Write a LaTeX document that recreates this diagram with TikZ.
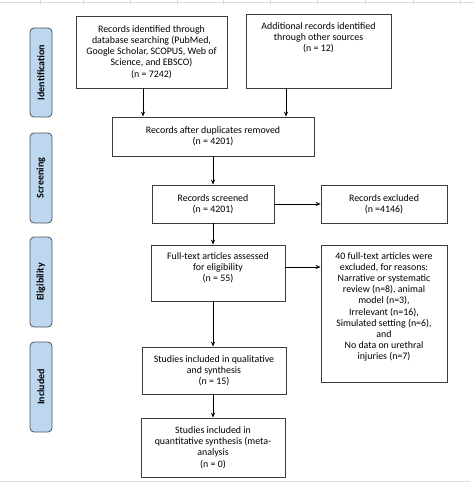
\documentclass[tikz,border=0pt]{standalone}
\usepackage{fontspec}
\setmainfont{Carlito}
\usetikzlibrary{arrows.meta}
\definecolor{boxline}{HTML}{3C3C3C}
\definecolor{phasefill}{HTML}{BDD7EE}
\definecolor{phaseline}{HTML}{4A5560}
\definecolor{faint}{HTML}{DDDDDD}
\tikzset{
  box/.style={draw=boxline, line width=0.8pt, fill=white, inner sep=0pt, align=center,
    font=\fontsize{9.9}{11.2}\selectfont},
  txt/.style={inner sep=0pt, align=center, font=\fontsize{9.9}{11.2}\selectfont},
  phase/.style={draw=phaseline, line width=0.8pt, fill=phasefill, rounded corners=4pt,
    minimum width=22pt, minimum height=90pt, inner sep=0pt},
  phasetxt/.style={rotate=90, font=\fontsize{10}{11}\selectfont\bfseries, inner sep=0pt},
  arr/.style={draw=black, line width=0.8pt, -{Stealth[length=5pt,width=4pt]}},
  faintline/.style={draw=faint, line width=0.7pt}
}
\begin{document}
\begin{tikzpicture}[x=1pt,y=-1pt]
\useasboundingbox (0,0) rectangle (474,484);
% faint frame artefacts
\coordinate (tl) at (0,2);
\coordinate (tr) at (474,2);
\draw[faintline] (tl) -- (tr);
\foreach \tx in {40,83,130,177,223,270,317,365,413,460}
  \draw[faintline] (\tx,0) -- (\tx,5);
\coordinate (bl) at (0,481);
\coordinate (br) at (470,481);
\draw[faintline] (bl) -- (br);

% phase labels
\node[phase, minimum height=89pt] (P1) at (41,72.5) {};
\node[phasetxt] (P1t) at (P1) {Identification};
\node[phase] (P2) at (41,178) {};
\node[phasetxt] (P2t) at (P2) {Screening};
\node[phase] (P3) at (41,282) {};
\node[phasetxt] (P3t) at (P3) {Eligibility};
\node[phase] (P4) at (41,387) {};
\node[phasetxt] (P4t) at (P4) {Included};

% boxes
\node[box, minimum width=151pt, minimum height=72pt] (A) at (151.5,52)
  {Records identified through\\database searching (PubMed,\\Google Scholar, SCOPUS, Web of\\Science, and EBSCO)\\(n = 7242)};
\node[box, minimum width=145pt, minimum height=74pt] (B) at (318.5,51) {};
\node[txt, anchor=north] (Bt) at ([yshift=-8.5pt]B.north)
  {Additional records identified\\through other sources\\(n = 12)};
\node[box, minimum width=202pt, minimum height=39pt] (C) at (213,136.5)
  {Records after duplicates removed\\(n = 4201)};
\node[box, minimum width=122pt, minimum height=38pt] (D) at (213,204)
  {Records screened\\(n = 4201)};
\node[box, minimum width=126pt, minimum height=38pt] (E) at (384,204)
  {Records excluded\\(n =4146)};
\node[box, minimum width=134pt, minimum height=56pt] (F) at (218,273) {};
\node[txt, anchor=north] (Ft) at ([yshift=-7.5pt]F.north)
  {Full-text articles assessed\\for eligibility\\(n = 55)};
\node[box, minimum width=126pt, minimum height=137pt] (G) at (384,313.5) {};
\node[txt, anchor=north] (Gt) at ([yshift=-7.5pt]G.north)
  {40 full-text articles were\\excluded, for reasons:\\Narrative or systematic\\review (n=8), animal\\model (n=3),\\Irrelevant (n=16),\\Simulated setting (n=6),\\and\\No data on urethral\\injuries (n=7)};
\node[box, minimum width=144pt, minimum height=47pt] (H) at (214,370.5)
  {Studies included in qualitative\\and synthesis\\(n = 15)};
\node[box, minimum width=144pt, minimum height=59pt] (I) at (213,447.5)
  {Studies included in\\quantitative synthesis (meta-\\analysis\\(n = 0)};

% connectors
\draw[arr] ([xshift=-8.5pt]A.south) -- ([xshift=-8.5pt]A.south |- C.north);
\draw[arr] ([xshift=-32.5pt]B.south) -- ([xshift=-32.5pt]B.south |- C.north);
\draw[arr] (C.south) -- (C.south |- D.north);
\draw[arr] (D.east) -- (E.west);
\draw[arr] (D.south) -- (D.south |- F.north);
\draw[arr] ([yshift=6pt]F.east) -- ([yshift=6pt]F.east -| G.west);
\draw[arr] (D.south |- F.south) -- (D.south |- H.north);
\draw[arr] (D.south |- H.south) -- (D.south |- I.north);
\end{tikzpicture}
\end{document}
